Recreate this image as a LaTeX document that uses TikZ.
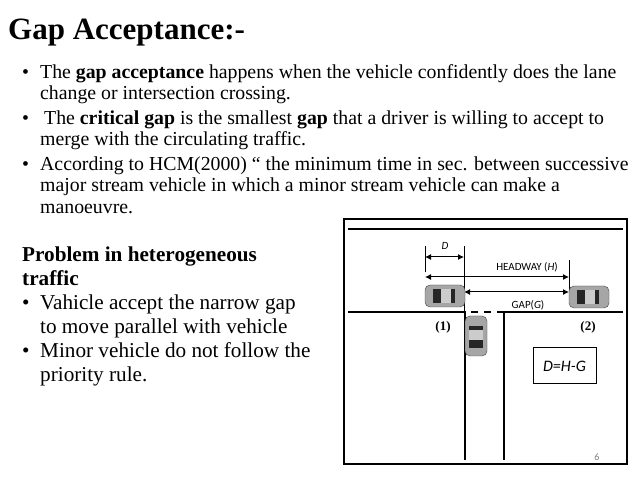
\documentclass[tikz,border=0pt]{standalone}
\usepackage{fontspec}
\setmainfont{Liberation Serif}
\newfontfamily\carlitofont{Carlito}
\usetikzlibrary{arrows.meta}
\begin{document}
\begin{tikzpicture}[x=1pt,y=-1pt,
  txt/.style={anchor=base west,inner sep=0pt,font=\fontsize{19.8}{19.8}\selectfont},
  ptxt/.style={anchor=base west,inner sep=0pt,font=\fontsize{21.2}{21.2}\selectfont},
  road/.style={line width=2pt},
  dim/.style={line width=1pt,{Latex[length=6pt,width=6pt]}-{Latex[length=6pt,width=6pt]}},
  ext/.style={line width=0.8pt},
  lbl/.style={font=\carlitofont\fontsize{11}{11}\selectfont,inner sep=0pt}]
\useasboundingbox (0,0) rectangle (638,478);
\node[anchor=base west,inner sep=0pt,font=\fontsize{31}{31}\selectfont\bfseries] (title) at (8,40) {Gap Acceptance:-};
\node[txt] (b1) at (22,79) {•};
\node[txt] (l1) at (40,79) {The \textbf{gap acceptance} happens when the vehicle confidently does the lane};
\node[txt] (l2) at (40,100) {change or intersection crossing.};
\node[txt] (b2) at (22,125) {•};
\node[txt] (l3) at (44,125) {The \textbf{critical gap} is the smallest \textbf{gap} that a driver is willing to accept to};
\node[txt] (l4) at (40,146) {merge with the circulating traffic.};
\node[txt] (b3) at (22,171) {•};
\node[txt] (l5) at (40,171) {According to HCM(2000) “ the minimum time in sec. between successive};
\node[txt] (l6) at (40,192) {major stream vehicle in which a minor stream vehicle can make a};
\node[txt] (l7) at (40,214) {manoeuvre.};
\node[ptxt,font=\fontsize{21.2}{21.2}\selectfont\bfseries] (p1) at (22,262) {Problem in heterogeneous};
\node[ptxt,font=\fontsize{21.2}{21.2}\selectfont\bfseries] (p2) at (22,286) {traffic};
\node[ptxt] (pb1) at (22,310) {•};
\node[ptxt] (p3) at (40,310) {Vahicle accept the narrow gap};
\node[ptxt] (p4) at (40,334) {to move parallel with vehicle};
\node[ptxt] (pb2) at (22,358) {•};
\node[ptxt] (p5) at (40,358) {Minor vehicle do not follow the};
\node[ptxt] (p6) at (40,382) {priority rule.};
% figure
\draw[line width=2pt] (344,219) rectangle (627,464);
\draw[road] (348,229) -- (623,229);
\draw[road] (348,312) -- (465,312) -- (465,460);
\draw[road] (623,312) -- (504,312) -- (504,460);
\draw[road,dash pattern=on 7pt off 6pt] (471,312) -- (504,312);
\coordinate (d1) at (425,257); \coordinate (d2) at (464,257);
\coordinate (h1) at (425,277); \coordinate (h2) at (569,277);
\coordinate (g1) at (464,292); \coordinate (g2) at (569,292);
\draw[ext] (425,246) -- (425,272);
\draw[ext] (464,246) -- (464,312);
\draw[ext] (569,260) -- (569,300);
\draw[dim] (d1) -- (d2);
\draw[dim] (h1) -- (h2);
\draw[dim] (g1) -- (g2);
\node[lbl,font=\carlitofont\itshape\fontsize{11}{11}\selectfont] (D) at (445,246) {D};
\node[lbl] (H) at (527,267) {HEADWAY (\textit{H})};
\node[lbl] (G) at (528,305) {GAP(\textit{G})};
% cars
\foreach \cx/\cy/\r in {445/296/0, 589/297/0, 476/336/90}{
  \begin{scope}[shift={(\cx,\cy)},rotate=\r]
    \fill[gray!70,draw=gray!50!black,rounded corners=5pt] (-20,-11) rectangle (20,11);
    \fill[black!85] (-12,-7) rectangle (-4,7);
    \fill[black!85] (6,-7) rectangle (10,7);
    \fill[gray!40] (-4,-7) rectangle (6,7);
  \end{scope}}
\node[inner sep=0pt,font=\fontsize{13}{13}\selectfont\bfseries] (n1) at (443,327) {(1)};
\node[inner sep=0pt,font=\fontsize{13}{13}\selectfont\bfseries] (n2) at (588,327) {(2)};
\node[draw,line width=1pt,minimum width=63pt,minimum height=36pt,font=\carlitofont\itshape\fontsize{16}{16}\selectfont] (eq) at (564.5,366) {D=H-G};
\node[font=\carlitofont\fontsize{10}{10}\selectfont,text=gray,inner sep=0pt] (pg) at (597,457) {6};
\end{tikzpicture}
\end{document}
